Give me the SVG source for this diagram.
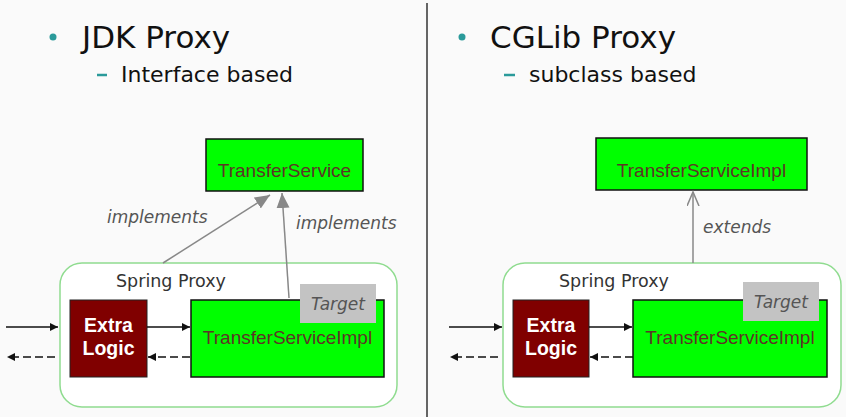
<svg xmlns="http://www.w3.org/2000/svg" width="846" height="417" viewBox="0 0 846 417">
<style>
.head{font-family:"DejaVu Sans",Verdana,sans-serif;font-size:31px;fill:#111}
.sub{font-family:"DejaVu Sans",Verdana,sans-serif;font-size:22px;fill:#111}
.bullet{fill:#2a9a9a}
.dash{stroke:#2a9a9a;stroke-width:2.5}
.cls{fill:#00ff00;stroke:#111;stroke-width:1.5}
.clsT{font-family:"Liberation Sans",Arial,sans-serif;font-size:19px;fill:#5e3426;text-anchor:middle}
.rel{font-family:"DejaVu Sans",Verdana,sans-serif;font-size:17px;font-style:italic;fill:#555}
.proxy{fill:#ffffff;stroke:#90dc90;stroke-width:1.5}
.proxyT{font-family:"DejaVu Sans",Verdana,sans-serif;font-size:17.5px;fill:#333}
.extra{fill:#800000;stroke:#222;stroke-width:1}
.extraT{font-family:"Liberation Sans",Arial,sans-serif;font-size:19.5px;font-weight:bold;fill:#fff;text-anchor:middle}
.tgt{fill:#c3c3c3}
.tgtT{font-family:"DejaVu Sans",Verdana,sans-serif;font-size:17px;font-style:italic;fill:#555;text-anchor:middle}
.gray{stroke:#888;stroke-width:1.5;fill:none}
.blk{stroke:#111;stroke-width:1.3;fill:none}
.dsh{stroke:#111;stroke-width:1.3;fill:none;stroke-dasharray:8 4}
</style>
<defs>
<marker id="triGray" markerUnits="userSpaceOnUse" markerWidth="18" markerHeight="14" refX="15" refY="6.5" orient="auto">
<path d="M0,0 L15,6.5 L0,13 Z" fill="#888"/>
</marker>
<marker id="openGray" markerUnits="userSpaceOnUse" markerWidth="16" markerHeight="14" refX="14" refY="6" orient="auto">
<path d="M0,0 L14,6 L0,12" fill="none" stroke="#888" stroke-width="1.5"/>
</marker>
<marker id="triBlk" markerUnits="userSpaceOnUse" markerWidth="10" markerHeight="8" refX="8" refY="4" orient="auto">
<path d="M0,0 L8,4 L0,8 Z" fill="#111"/>
</marker>
</defs>
<rect width="846" height="417" fill="#fafafa"/>
<line x1="427" y1="3" x2="427" y2="417" stroke="#333" stroke-width="1.5"/>

<g id="header-left">
<circle class="bullet" cx="53" cy="37" r="3.5"/>
<text class="head" x="82" y="48">JDK Proxy</text>
<line class="dash" x1="97" y1="75" x2="107" y2="75"/>
<text class="sub" x="121" y="82">Interface based</text>
</g>
<g id="header-right">
<circle class="bullet" cx="462" cy="37" r="3.5"/>
<text class="head" x="490" y="48">CGLib Proxy</text>
<line class="dash" x1="504" y1="75" x2="515" y2="75"/>
<text class="sub" x="529" y="82">subclass based</text>
</g>

<g id="left-transferservice">
<rect class="cls" x="206" y="139" width="157" height="52"/>
<text class="clsT" x="284.5" y="177">TransferService</text>
</g>
<g id="left-proxy">
<rect class="proxy" x="60" y="263" width="337" height="144" rx="22"/>
<text class="proxyT" x="116" y="287">Spring Proxy</text>
</g>
<g id="left-extra">
<rect class="extra" x="70" y="300" width="77" height="77"/>
<text class="extraT" x="108.5" y="332">Extra</text>
<text class="extraT" x="108.5" y="355">Logic</text>
</g>
<g id="left-impl">
<rect class="cls" x="191" y="300" width="193" height="77"/>
<text class="clsT" x="287.5" y="344">TransferServiceImpl</text>
</g>
<g id="left-target">
<rect class="tgt" x="300" y="284" width="76" height="39"/>
<text class="tgtT" x="338" y="310">Target</text>
</g>

<g id="right-superclass">
<rect class="cls" x="596" y="138" width="211" height="52"/>
<text class="clsT" x="701.5" y="177">TransferServiceImpl</text>
</g>
<g id="right-proxy">
<rect class="proxy" x="503" y="263" width="338" height="144" rx="22"/>
<text class="proxyT" x="559" y="287">Spring Proxy</text>
</g>
<g id="right-extra">
<rect class="extra" x="513" y="300" width="76" height="77"/>
<text class="extraT" x="551" y="332">Extra</text>
<text class="extraT" x="551" y="355">Logic</text>
</g>
<g id="right-impl">
<rect class="cls" x="633" y="300" width="194" height="77"/>
<text class="clsT" x="730" y="344">TransferServiceImpl</text>
</g>
<g id="right-target">
<rect class="tgt" x="743" y="282" width="76" height="39"/>
<text class="tgtT" x="781" y="308">Target</text>
</g>

<g id="connectors">
<line class="gray" x1="163" y1="263" x2="270" y2="195" marker-end="url(#triGray)"/>
<line class="gray" x1="289" y1="298" x2="282" y2="193" marker-end="url(#triGray)"/>
<text class="rel" x="107" y="223">implements</text>
<text class="rel" x="296" y="229">implements</text>
<line class="gray" x1="693" y1="263" x2="693" y2="192" marker-end="url(#openGray)"/>
<text class="rel" x="703" y="233">extends</text>

<line class="blk" x1="6" y1="327" x2="58" y2="327" marker-end="url(#triBlk)"/>
<line class="blk" x1="147" y1="327" x2="190" y2="327" marker-end="url(#triBlk)"/>
<line class="dsh" x1="190" y1="357" x2="148" y2="357" marker-end="url(#triBlk)"/>
<line class="dsh" x1="55" y1="357" x2="7" y2="357" marker-end="url(#triBlk)"/>

<line class="blk" x1="449" y1="327" x2="502" y2="327" marker-end="url(#triBlk)"/>
<line class="blk" x1="589" y1="327" x2="632" y2="327" marker-end="url(#triBlk)"/>
<line class="dsh" x1="633" y1="357" x2="590" y2="357" marker-end="url(#triBlk)"/>
<line class="dsh" x1="498" y1="357" x2="450" y2="357" marker-end="url(#triBlk)"/>
</g>
</svg>
